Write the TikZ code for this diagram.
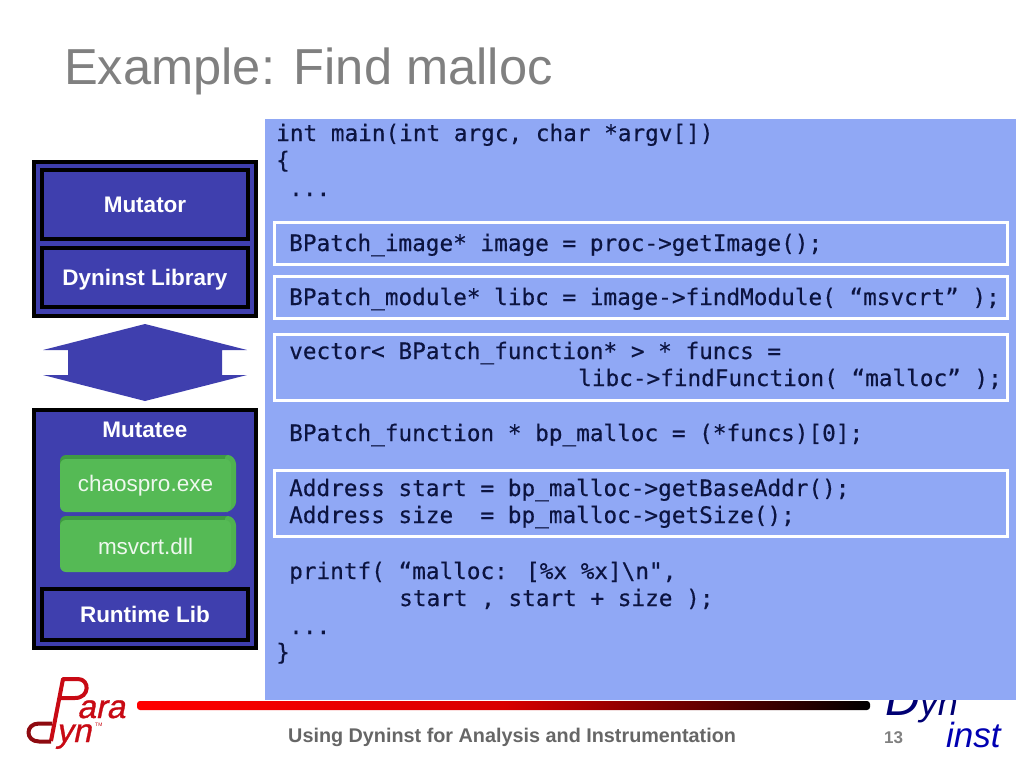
\documentclass[tikz,border=0pt]{standalone}
\usepackage{fontspec}
\setmainfont{Liberation Sans}
\newfontfamily\codefont[FakeBold=0.4]{DejaVu Sans Mono}
\newfontfamily\logofont[FakeSlant=0.21,FakeBold=1]{Liberation Sans}
\definecolor{boxblue}{HTML}{3F3FAE}
\definecolor{panelblue}{HTML}{90A8F5}
\definecolor{btngreen}{HTML}{55BA55}
\definecolor{btndark}{HTML}{3F9A42}
\definecolor{btnside}{HTML}{4FB24F}
\definecolor{logored}{HTML}{C80A14}
\definecolor{logodark}{HTML}{8E0A10}
\definecolor{titlegray}{HTML}{808080}
\definecolor{footgray}{HTML}{666666}
\definecolor{codenavy}{HTML}{0C1440}
\tikzset{
  layerbox/.style={draw=black, line width=4pt, fill=boxblue, inner sep=0pt, minimum width=206pt,
    text=white, text height=16pt, text depth=0pt, font=\fontsize{22.5}{27}\selectfont\bfseries},
  outerbox/.style={layerbox, minimum width=222pt},
  btnface/.style={fill=btngreen, rounded corners=6pt, inner sep=0pt, minimum width=171pt, minimum height=53pt,
    text=white!90!btngreen, font=\fontsize{22.5}{27}\selectfont},
  btnback/.style={fill=btndark, rounded corners=6pt},
  btnsliver/.style={fill=btnside, rounded corners=3pt},
  codeline/.style={anchor=base west, inner sep=0pt, text=codenavy, font=\fontsize{22.7}{27}\selectfont\codefont},
  hilite/.style={draw=white, line width=3pt},
  logotext/.style={anchor=base west, inner sep=0pt, text=logored},
}
\begin{document}
\begin{tikzpicture}[x=1pt, y=-1pt]
    \useasboundingbox (0,0) rectangle (1024,768);

    % Title:
    \node[anchor=base west, inner sep=0pt, text=titlegray, font=\fontsize{50.6}{60}\selectfont] (title) at (64,84) {Example: Find malloc};

    % Logo at the right, its top hidden by the panel:
    \node[anchor=base west, inner sep=0pt, text=blue!45!black, font=\itshape] (dynlogo) at (885,715) {\fontsize{48}{52}\selectfont D\fontsize{36}{40}\selectfont yn};
    \node[anchor=base west, inner sep=0pt, text=blue!70!black, font=\fontsize{35}{40}\selectfont\itshape] (instlogo) at (946,747) {inst};

    % Code panel:
    \fill[panelblue] (265,119) rectangle (1016,700);
    \draw[hilite] (274,222) rectangle (1007,264);
    \draw[hilite] (274,276) rectangle (1007,318);
    \draw[hilite] (274,334) rectangle (1007,400);
    \draw[hilite] (274,470) rectangle (1007,536);

    \node[codeline] (main) at (276,141) {int main(int argc, char *argv[])};
    \node[codeline] (open) at (276,168) {\{};
    \node[codeline] (dots) at (289,196) {...};
    \node[codeline] (image) at (289,251) {BPatch\_image* image = proc->getImage();};
    \node[codeline] (libc) at (289,305) {BPatch\_module* libc = image->findModule( “msvcrt” );};
    \node[codeline] (funcs) at (289,359) {vector< BPatch\_function* > * funcs =};
    \node[codeline] (find) at (578,386) {libc->findFunction( “malloc” );};
    \node[codeline] (bp) at (289,441) {BPatch\_function * bp\_malloc = (*funcs)[0];};
    \node[codeline] (start) at (289,496) {Address start = bp\_malloc->getBaseAddr();};
    \node[codeline] (size) at (289,523) {Address size~~= bp\_malloc->getSize();};
    \node[codeline] (printf) at (289,579) {printf( “malloc: [\%x \%x]\textbackslash n",};
    \node[codeline] (args) at (399,606) {start , start + size );};
    \node[codeline] (dotsb) at (289,634) {...};
    \node[codeline] (close) at (276,660) {\}};

    % Mutator stack:
    \node[outerbox, minimum height=154pt] (mutatorstack) at (145,239) {};
    \node[layerbox, minimum height=69pt] (mutator) at (145,204.5) {Mutator};
    \node[layerbox, minimum height=59pt] (dyninst) at (145,277.5) {Dyninst Library};

    % Double arrow:
    \fill[boxblue] (145,324) -- (247,350) -- (222,350) -- (222,375) -- (247,375)
        -- (145,401) -- (43,375) -- (68,375) -- (68,350) -- (43,350) -- cycle;

    % Mutatee stack:
    \node[outerbox, minimum height=238pt] (mutateestack) at (145,529) {};
    \node[inner sep=0pt, text=white, font=\fontsize{22.5}{27}\selectfont\bfseries] (mutatee) at (145,430) {Mutatee};
    \fill[btnback] (60,455) rectangle (232,480);
    \fill[btnsliver] (225,455) -- (231,455) -- (236,461) -- (236,505) -- (229,512) -- (225,512) -- cycle;
    \node[btnface] (exe) at (145.5,485.5) {chaospro.exe};
    \fill[btnback] (60,516) rectangle (232,540);
    \fill[btnsliver] (225,516) -- (231,516) -- (236,522) -- (236,565) -- (229,572) -- (225,572) -- cycle;
    \node[btnface, minimum height=52pt] (dll) at (145.5,546) {msvcrt.dll};
    \node[layerbox, minimum height=51pt] (runtime) at (145,614.5) {Runtime Lib};

    % Bar and footer:
    \shade[left color=red, right color=black, middle color=red!85!black, rounded corners=3pt] (137,701) rectangle (870,710);
    \node[inner sep=0pt, anchor=base west, text=footgray, font=\fontsize{19.8}{24}\selectfont\bfseries] (footer) at (288,742) {Using Dyninst for Analysis and Instrumentation};
    \node[inner sep=0pt, anchor=base west, text=titlegray, font=\fontsize{17}{20}\selectfont\bfseries] (pagenum) at (884,743.5) {13};

    % Logo at the left:
    \draw[logored, line width=4pt, line join=round] (51,741) -- (63,679) -- (78,679)
        .. controls (90,679) and (90,698) .. (75,698) -- (59,698);
    \draw[logodark, line width=4pt, line join=round] (52,723.5) -- (39,723.5)
        .. controls (25,723.5) and (25,741.5) .. (39,741.5) -- (51,741.5);
    \node[logotext, font=\fontsize{33}{36}\selectfont\logofont] (ara) at (77,718) {ara};
    \node[logotext, font=\fontsize{33}{36}\selectfont\logofont] (yn) at (56,742) {yn};
    \node[logotext, font=\fontsize{5}{6}\selectfont] (tm) at (95,726) {TM};
\end{tikzpicture}
\end{document}
